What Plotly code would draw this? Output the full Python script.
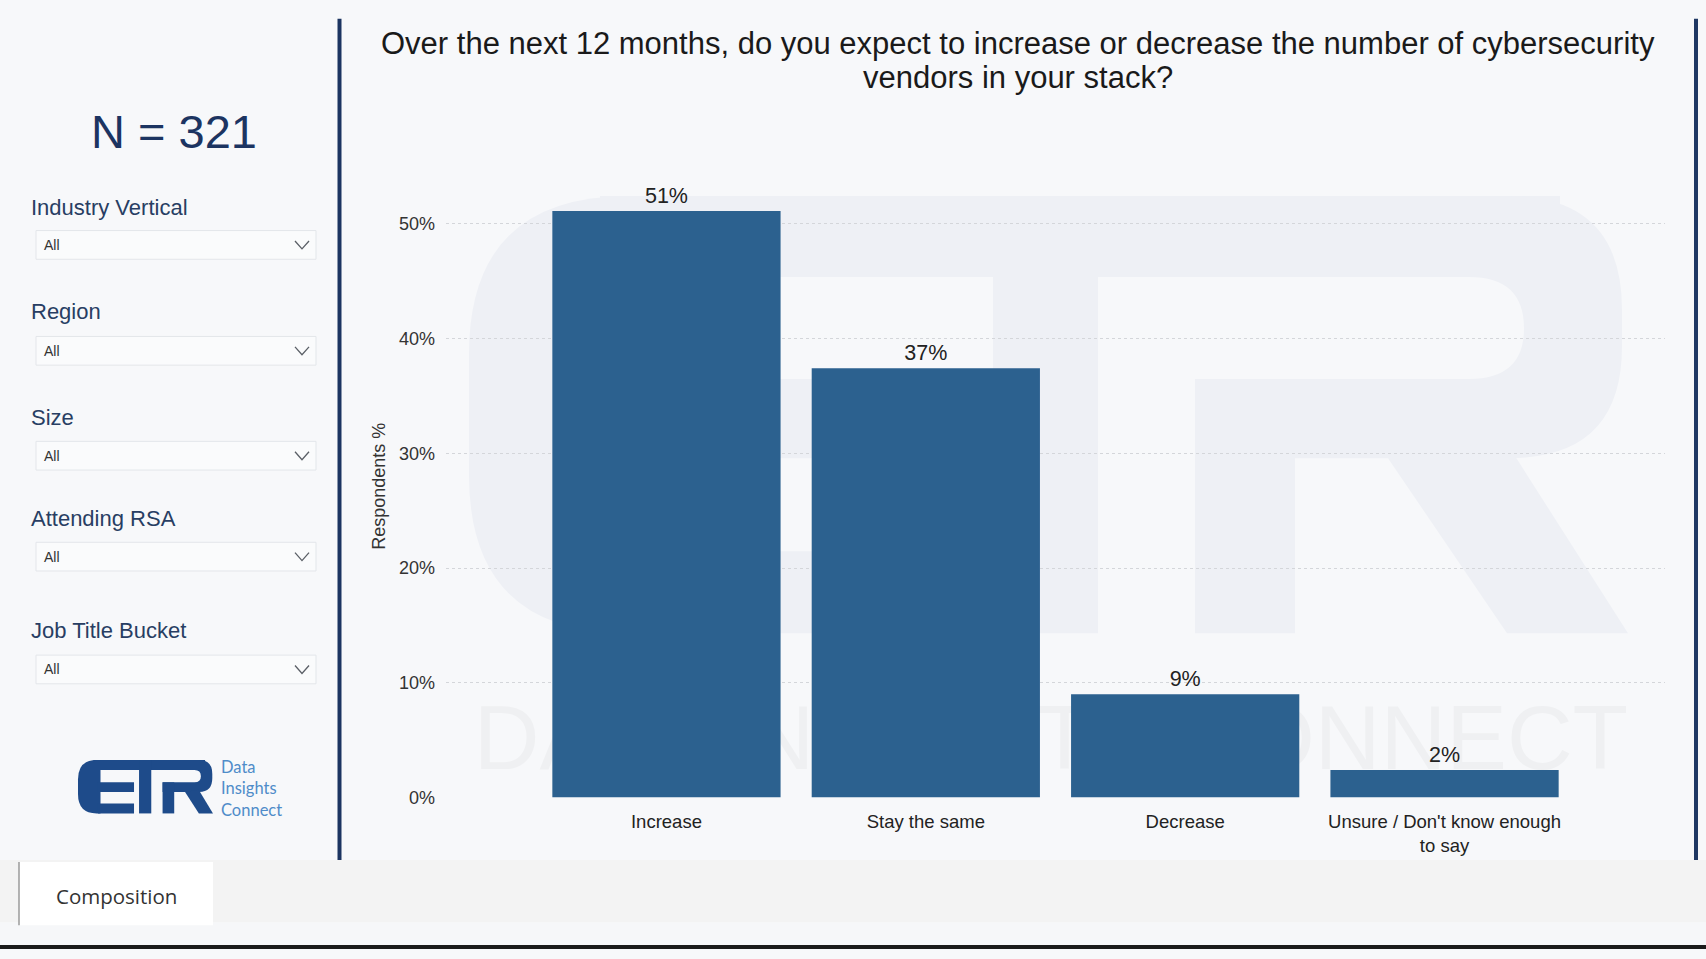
import plotly.graph_objects as go

# ---------------- data ----------------
categories = ["Increase", "Stay the same", "Decrease", "Unsure / Don't know enough to say"]
tick_labels = ["Increase", "Stay the same", "Decrease", "Unsure / Don't know enough<br>to say"]
respondents_pct = [51.1, 37.4, 9.0, 2.4]
y_ticks = [0, 10, 20, 30, 40, 50]
y_tick_labels = ["0%", "10%", "20%", "30%", "40%", "50%"]
filter_names = ["Industry Vertical", "Region", "Size", "Attending RSA", "Job Title Bucket"]
filter_values = ["All", "All", "All", "All", "All"]
sample_size = 321
title_lines = ["Over the next 12 months, do you expect to increase or decrease the number of cybersecurity",
               "vendors in your stack?"]

# ---------------- layout helpers (pixel -> paper) ----------------
W, H = 1706, 959
BG = "#f7f8fa"
NAVY = "#1c3461"
BAR = "#2c618f"
WM = "#eef0f5"
FONT = "Liberation Sans, Arial, sans-serif"


def fx(x):
    return x / W


def fy(y):
    return 1 - y / H


def rect(x0, y0, x1, y1, fill, line=None, lw=0, layer="above"):
    return dict(type="rect", xref="paper", yref="paper", x0=fx(x0), x1=fx(x1),
                y0=fy(y1), y1=fy(y0), fillcolor=fill, layer=layer,
                line=dict(width=lw, color=line or fill))


def path_shape(cmds, fill, layer="above"):
    parts = []
    for c in cmds:
        op = c[0]
        nums = c[1:]
        if op == "Z":
            parts.append("Z")
            continue
        pts = []
        for i in range(0, len(nums), 2):
            pts.append(f"{fx(nums[i]):.5f},{fy(nums[i + 1]):.5f}")
        parts.append(op + " " + " ".join(pts))
    return dict(type="path", xref="paper", yref="paper", path=" ".join(parts),
                fillcolor=fill, layer=layer, line=dict(width=0, color=fill))


# ETR logo geometry (defined in watermark pixel space)
def logo_shapes(ox, oy, sx, sy, color, layer):
    def T(x, y):
        return (ox + (x - 469) * sx, oy + (y - 198) * sy)

    def cmd(op, *xy):
        out = [op]
        for i in range(0, len(xy), 2):
            out.extend(T(xy[i], xy[i + 1]))
        return tuple(out)

    pieces = []
    # E body with rounded left side
    pieces.append([cmd("M", 662, 198), cmd("L", 629, 198), cmd("Q", 469, 198, 469, 358),
                   cmd("L", 469, 480), cmd("Q", 469, 640, 629, 640), cmd("L", 662, 640), ("Z",)])
    # shared top bar
    pieces.append([cmd("M", 600, 198), cmd("L", 1560, 198), cmd("L", 1560, 280), cmd("L", 600, 280), ("Z",)])
    # E middle and bottom bars
    pieces.append([cmd("M", 640, 383), cmd("L", 950, 383), cmd("L", 950, 463), cmd("L", 640, 463), ("Z",)])
    pieces.append([cmd("M", 640, 557), cmd("L", 950, 557), cmd("L", 950, 640), cmd("L", 640, 640), ("Z",)])
    # T stem
    pieces.append([cmd("M", 993, 198), cmd("L", 1098, 198), cmd("L", 1098, 640), cmd("L", 993, 640), ("Z",)])
    # R bowl
    pieces.append([cmd("M", 1098, 198), cmd("L", 1507, 198), cmd("Q", 1622, 198, 1622, 313),
                   cmd("L", 1622, 350), cmd("Q", 1622, 463, 1509, 463), cmd("L", 1195, 463),
                   cmd("L", 1195, 383), cmd("L", 1469, 383), cmd("Q", 1524, 383, 1524, 332),
                   cmd("Q", 1524, 280, 1469, 280), cmd("L", 1098, 280), ("Z",)])
    # R stem
    pieces.append([cmd("M", 1195, 383), cmd("L", 1295, 383), cmd("L", 1295, 640), cmd("L", 1195, 640), ("Z",)])
    # R leg
    pieces.append([cmd("M", 1388, 463), cmd("L", 1505, 445), cmd("L", 1628, 640), cmd("L", 1507, 640), ("Z",)])
    return [path_shape(p, color, layer=layer) for p in pieces]


shapes = []
# watermark logo (behind everything)
shapes += logo_shapes(469, 198, 1.0, 1.0, WM, "below")

# vertical divider lines
shapes.append(dict(type="line", xref="paper", yref="paper", x0=fx(339.5), x1=fx(339.5),
                   y0=fy(19), y1=fy(869), line=dict(color=NAVY, width=4)))
shapes.append(dict(type="line", xref="paper", yref="paper", x0=fx(1696), x1=fx(1696),
                   y0=fy(19), y1=fy(869), line=dict(color="#1f3864", width=4)))

# filter dropdown boxes
box_tops = [233, 340, 446, 548, 662]
label_ys = [210, 315, 422, 524, 637]
box_h = 29
for bt in box_tops:
    shapes.append(rect(36, bt, 316, bt + box_h, "#fafbfc", line="#e3e6ea", lw=1))
    cy = bt + box_h / 2
    shapes.append(dict(type="path", xref="paper", yref="paper",
                       path=f"M {fx(295):.5f},{fy(cy - 4):.5f} L {fx(302):.5f},{fy(cy + 4):.5f} L {fx(309):.5f},{fy(cy - 4):.5f}",
                       line=dict(color="#5a5f66", width=1.3)))

# small ETR logo
shapes += logo_shapes(78, 768, 135 / 1159, 54 / 442, "#1e4b8a", "above")

# bottom tab bar
shapes.append(rect(0, 869, W, 932, "#f3f3f3"))
shapes.append(rect(0, 932, W, 955, "#f6f7f9"))
shapes.append(rect(0, 955, W, H, "#1b1b1b"))
shapes.append(rect(19, 871, 213, 935, "#ffffff"))
shapes.append(dict(type="line", xref="paper", yref="paper", x0=fx(19), x1=fx(19),
                   y0=fy(871), y1=fy(935), line=dict(color="#9a9a9a", width=1.5)))

# ---------------- annotations ----------------
ann = []
for line, ly in zip(title_lines, [43.5, 78.5]):
    ann.append(dict(text=line, x=fx(1018), y=fy(ly), xref="paper", yref="paper", showarrow=False,
                    xanchor="center", yanchor="middle",
                    font=dict(family=FONT, size=31, color="#1a1a1a")))
ann.append(dict(text=f"N = {sample_size}", x=fx(174), y=fy(133), xref="paper", yref="paper",
                showarrow=False, xanchor="center", yanchor="middle",
                font=dict(family=FONT, size=47, color=NAVY)))
for name, val, ly, bt in zip(filter_names, filter_values, label_ys, box_tops):
    ann.append(dict(text=name, x=fx(29), y=fy(ly), xref="paper", yref="paper", showarrow=False,
                    xanchor="left", yanchor="middle", font=dict(family=FONT, size=22, color="#283e63")))
    ann.append(dict(text=val, x=fx(42), y=fy(bt + box_h / 2), xref="paper", yref="paper", showarrow=False,
                    xanchor="left", yanchor="middle", font=dict(family=FONT, size=14, color="#333333")))
ann.append(dict(text="Data<br>Insights<br>Connect", x=fx(219), y=fy(797), xref="paper", yref="paper",
                showarrow=False, xanchor="left", yanchor="middle", align="left",
                font=dict(family="Lato, sans-serif", size=16.5, color="#4f8cc9")))
ann.append(dict(text="Composition", x=fx(117), y=fy(905), xref="paper", yref="paper", showarrow=False,
                xanchor="center", yanchor="middle",
                font=dict(family="Open Sans, sans-serif", size=20.5, color="#333333")))
ann.append(dict(text="Respondents %", x=fx(379), y=fy(492), xref="paper", yref="paper", showarrow=False,
                textangle=-90, xanchor="center", yanchor="middle",
                font=dict(family=FONT, size=18, color="#333333")))

# ---------------- traces ----------------
fig = go.Figure()
# faint "DATA INSIGHTS CONNECT" watermark, on a full-page subplot drawn beneath the chart
fig.add_trace(go.Scatter(x=[1051], y=[754], mode="text", text=["DATA INSIGHTS CONNECT"],
                         textfont=dict(family=FONT, size=91, color="#eff0f2"),
                         hoverinfo="skip", showlegend=False, xaxis="x", yaxis="y"))

fig.add_trace(go.Bar(x=categories, y=respondents_pct, marker=dict(color=BAR, line=dict(width=0)),
                     texttemplate="%{y:.0f}%", textposition="outside", cliponaxis=False,
                     textfont=dict(family=FONT, size=21.5, color="#222222"),
                     showlegend=False, xaxis="x2", yaxis="y2"))

y_top = (806 - 178) / 11.6

fig.update_layout(
    width=W, height=H, autosize=False,
    margin=dict(l=0, r=0, t=0, b=0),
    paper_bgcolor=BG, plot_bgcolor="rgba(0,0,0,0)",
    font=dict(family=FONT, color="#333333"),
    xaxis=dict(domain=[0, 1], range=[0, W], visible=False, fixedrange=True),
    yaxis=dict(domain=[0, 1], range=[H, 0], visible=False, fixedrange=True),
    xaxis2=dict(domain=[fx(446), fx(1665)], anchor="y2", type="category",
                range=[-0.85, 3.85], tickmode="array", tickvals=categories, ticktext=tick_labels,
                showgrid=False, showline=False, zeroline=False, ticks="",
                tickfont=dict(family=FONT, size=18.5, color="#222222"), ticklabelstandoff=11),
    yaxis2=dict(domain=[fy(806), fy(178)], anchor="x2", range=[0, y_top],
                tickmode="array", tickvals=y_ticks, ticktext=y_tick_labels,
                showgrid=True, gridcolor="#d4d6da", griddash="dot", gridwidth=1,
                zeroline=False, showline=False, ticks="", ticklabelstandoff=10,
                tickfont=dict(family=FONT, size=18, color="#333333")),
    bargap=0.12,
    shapes=shapes,
    annotations=ann,
)

fig.write_html("out.html", config={"displayModeBar": False},
               post_script="document.body.style.margin='0';document.body.style.overflow='hidden';")
